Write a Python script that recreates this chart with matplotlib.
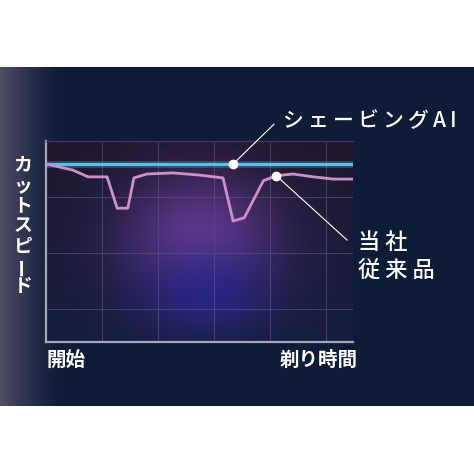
import numpy as np
import matplotlib
matplotlib.use("Agg")
import matplotlib.pyplot as plt

plt.rcParams['font.family'] = ['Noto Sans CJK JP', 'DejaVu Sans']

# データ（グリッド1マス = 1単位）
time_ai = [0.0, 5.48]
speed_ai = [3.59, 3.59]

time_old = [0.0, 0.48, 0.75, 1.09, 1.27, 1.46, 1.57, 1.80, 2.27, 2.75, 3.16,
            3.34, 3.54, 3.88, 4.11, 4.41, 4.77, 5.13, 5.48]
speed_old = [3.59, 3.48, 3.36, 3.36, 2.80, 2.80, 3.34, 3.41, 3.43, 3.39, 3.34,
             2.57, 2.63, 3.29, 3.38, 3.41, 3.36, 3.32, 3.32]

marker_ai = (3.34, 3.59)
marker_old = (4.11, 3.38)

label_ai = "シェービングAI"
label_old = "当 社\n従 来 品"
ylabel = "カットスピード"
xlabel_start = "開始"
xlabel_end = "剃り時間"

W = H = 474
fig = plt.figure(figsize=(4.74, 4.74), dpi=100, facecolor='white')

# 背景（濃紺パネル＋左端のグラデーション）
bg = fig.add_axes([0, 0, 1, 1])
bg.set_axis_off()
img = np.ones((H, W, 3))
navy = np.array([14, 28, 56]) / 255
edge = np.array([80, 78, 102]) / 255
xs = np.arange(W)
t = np.clip(1 - xs / 62, 0, 1) ** 1.4
row = navy[None, :] * (1 - t[:, None]) + edge[None, :] * t[:, None]
img[67:406, :, :] = row[None, :, :]
bg.imshow(img, extent=(0, W, H, 0), aspect='auto', interpolation='bilinear')
bg.set_xlim(0, W)
bg.set_ylim(H, 0)

# グラフ領域
ax = fig.add_axes([46 / W, 1 - 342 / H, 307 / W, 201 / H])
x0, x1, y0, y1 = 0, 5.48, 0.41, 4.0
gx, gy = np.meshgrid(np.linspace(x0, x1, 300), np.linspace(y1, y0, 200))
base = np.array([32, 24, 46]) / 255
low = np.array([22, 30, 62]) / 255
vert = np.clip((y1 - gy) / (y1 - y0), 0, 1)[..., None]
inner = base * (1 - vert) + low * vert
purple = np.array([98, 56, 142]) / 255
blue = np.array([38, 38, 140]) / 255
a1 = np.exp(-(((gx - 2.75) / 1.35) ** 2 + ((gy - 2.3) / 1.1) ** 2))[..., None]
a2 = np.exp(-(((gx - 2.85) / 1.1) ** 2 + ((gy - 1.3) / 0.75) ** 2))[..., None]
inner = inner + a1 * (purple - inner)
inner = inner + 0.8 * a2 * (blue - inner)
ax.imshow(np.clip(inner, 0, 1), extent=(x0, x1, y0, y1), aspect='auto',
          interpolation='bilinear', zorder=0)

ax.set_xlim(x0, x1)
ax.set_ylim(y0, y1)
ax.set_xticks([1, 2, 3, 4, 5])
ax.set_yticks([1, 2, 3])
ax.grid(True, color='#55507a', linewidth=0.8, alpha=0.7)
ax.tick_params(length=0, labelbottom=False, labelleft=False)
ax.spines['right'].set_visible(False)
ax.spines['top'].set_color('#3c3a5c')
ax.spines['top'].set_linewidth(1)
ax.spines['left'].set_color('#a4a8ba')
ax.spines['bottom'].set_color('#a4a8ba')
ax.spines['left'].set_linewidth(1.6)
ax.spines['bottom'].set_linewidth(1.6)

# 線
ax.plot(time_ai, speed_ai, color='#4fb6de', linewidth=5, alpha=0.3, zorder=3,
        solid_capstyle='butt')
ax.plot(time_ai, speed_ai, color='#5cc0e6', linewidth=2.2, zorder=4,
        solid_capstyle='butt')
ax.plot(time_old, speed_old, color='#cc92c8', linewidth=2.0, zorder=4)

# マーカーと引き出し線
ax.plot([marker_ai[0], 4.07], [marker_ai[1], 4.30], color='white',
        linewidth=0.8, clip_on=False, zorder=5)
ax.plot([marker_old[0], 5.375], [marker_old[1], 2.23], color='white',
        linewidth=0.8, clip_on=False, zorder=5)
ax.plot(*marker_ai, 'o', color='white', markersize=6, zorder=6, clip_on=False)
ax.plot(*marker_old, 'o', color='white', markersize=6, zorder=6, clip_on=False)

# 文字間を少し空ける
spaced_ai = '\u2009'.join(label_ai)
ax.text(4.23, 4.36, spaced_ai, color='white', fontsize=15, fontweight='medium',
        ha='left', va='center', clip_on=False)
ax.text(5.57, 1.94, label_old, color='white', fontsize=16, fontweight='medium',
        ha='left', va='center', linespacing=1.25, clip_on=False)

# 軸ラベル
ax.text(0.0, -0.09, xlabel_start, transform=ax.transAxes, color='white',
        fontsize=14, fontweight='bold', ha='left', va='center')
ax.text(1.016, -0.09, xlabel_end, transform=ax.transAxes, color='white',
        fontsize=14, fontweight='bold', ha='right', va='center')

# 縦書きラベル
for i, ch in enumerate(ylabel):
    yy = 165 + i * 20.3
    fig.text(23 / W, 1 - yy / H, ch, color='white', fontsize=13.5,
             fontweight='bold', ha='center', va='center',
             rotation=90 if ch == 'ー' else 0)

fig.savefig('out.png', dpi=100, facecolor='white')
